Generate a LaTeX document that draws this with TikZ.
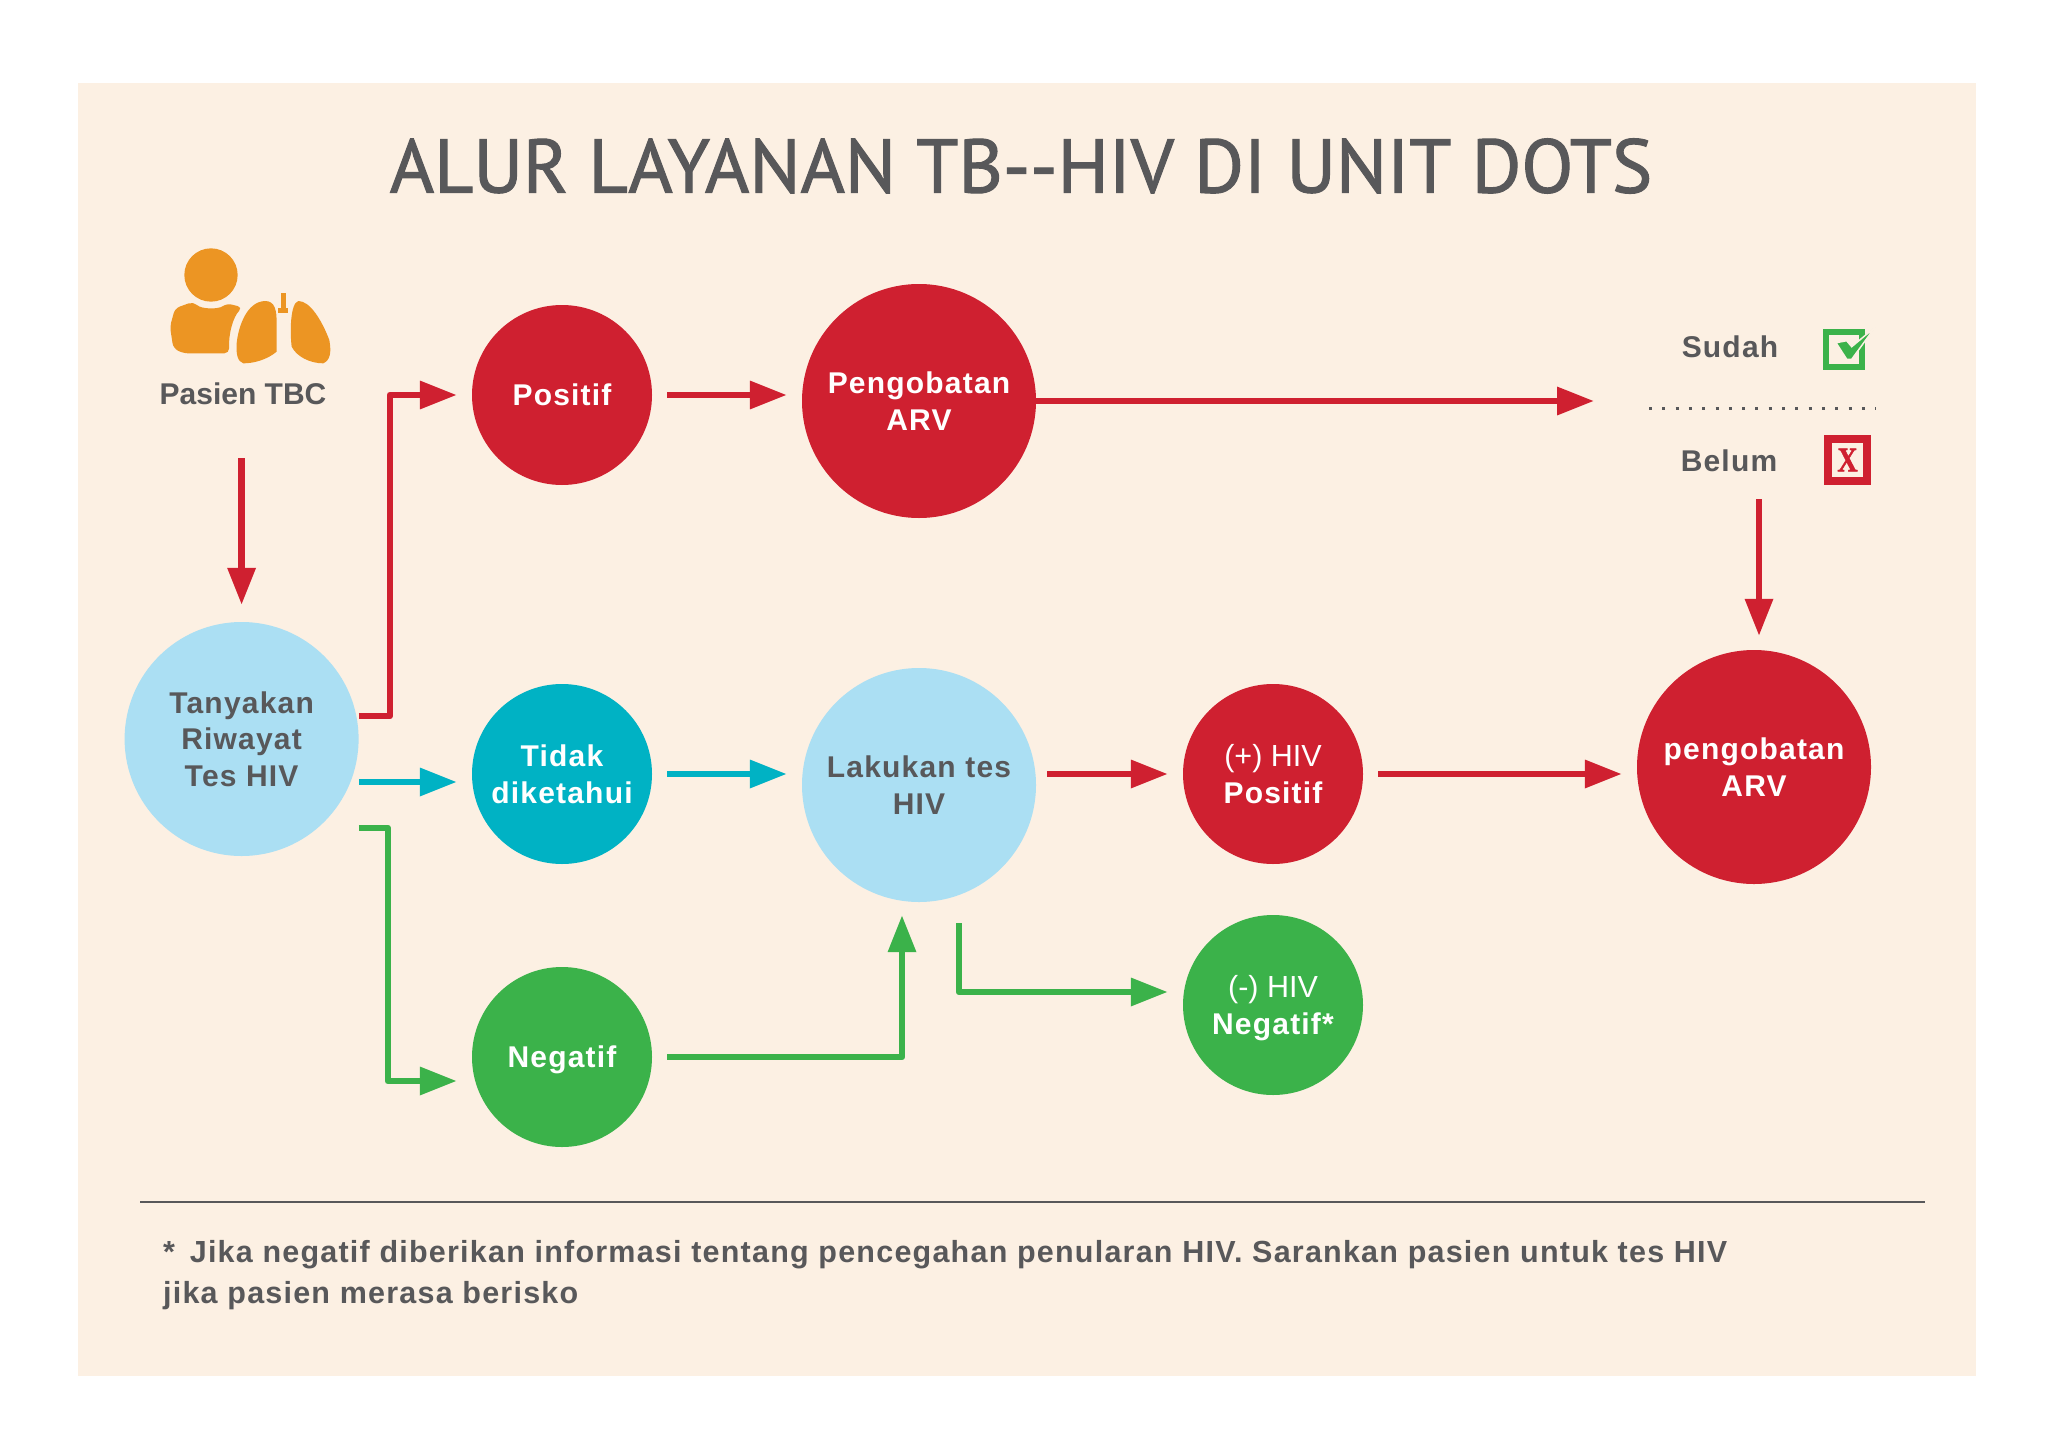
\documentclass[tikz,border=0pt]{standalone}
\usepackage{fontspec}
\setmainfont{Liberation Sans}
\newfontfamily\lblfont[LetterSpace=4]{Liberation Sans}
\newfontfamily\titlefont[FakeBold=1.4]{PT Sans}
\newfontfamily\boxfont[FakeBold=1.5]{Liberation Serif}
\usepackage{tikz}
\usetikzlibrary{arrows.meta}
\definecolor{bgcream}{HTML}{FCF0E3}
\definecolor{txtgray}{HTML}{58585A}
\definecolor{redmain}{HTML}{CF2030}
\definecolor{bluelight}{HTML}{ABDFF3}
\definecolor{cyanmain}{HTML}{00B2C4}
\definecolor{greenmain}{HTML}{3BB24A}
\definecolor{orangemain}{HTML}{EC9523}
\tikzset{
  circ/.style={circle, inner sep=0pt, align=center, text=white, font=\lblfont\fontsize{30}{36.6}\selectfont\bfseries},
  small/.style={circ, minimum size=180pt},
  big/.style={circ, minimum size=234pt},
  lbl/.style={text=txtgray, align=center, inner sep=0pt, font=\lblfont\fontsize{30}{36.6}\selectfont\bfseries},
  conn/.style={line width=6.5pt, line join=round, -{Triangle[length=37pt,width=27pt]}},
  gap/.style={conn, shorten <=15pt, shorten >=15pt},
}
\newcommand{\plainline}[1]{{\rmfamily\mdseries\fontsize{30.5}{36.6}\selectfont #1}}
\begin{document}
\begin{tikzpicture}[x=1pt, y=-1pt]
\useasboundingbox (0,0) rectangle (2048,1445);
\fill[bgcream] (78,83) rectangle (1976,1376);
\node (title) at (1021,166) [text=txtgray, inner sep=0pt, font=\titlefont\fontsize{76}{76}\selectfont] {ALUR LAYANAN TB--HIV DI UNIT DOTS};

\node (tanyakan) at (241.6,739) [big, fill=bluelight, text=txtgray] {Tanyakan\\Riwayat\\Tes HIV};
\node (positif) at (562,395) [small, fill=redmain] {Positif};
\node (tidak) at (562,774) [small, fill=cyanmain, text depth=-8pt] {Tidak\\diketahui};
\node (negatif) at (562,1057) [small, fill=greenmain, text depth=0pt] {Negatif};
\node (pengobatan) at (919,401) [big, fill=redmain] {Pengobatan\\ARV};
\node (lakukan) at (919,785) [big, fill=bluelight, text=txtgray] {Lakukan tes\\HIV};
\node (hivplus) at (1273,774) [small, fill=redmain] {\plainline{(+) HIV}\\Positif};
\node (hivmin) at (1273,1005) [small, fill=greenmain, text depth=0pt] {\plainline{(-) HIV}\\Negatif*};
\node (arv) at (1754,767) [big, fill=redmain] {pengobatan\\ARV};
\node (pasien) at (243,394) [lbl, font=\rmfamily\fontsize{30}{36.6}\selectfont\bfseries] {Pasien TBC};
\node (sudah) at (1730,347) [lbl] {Sudah};
\node (belum) at (1729,461) [lbl] {Belum};
\coordinate (sudahin) at (1594,401);
\coordinate (belumout) at (1759,499);

\draw[conn, redmain, shorten <=53pt, shorten >=17pt] (tanyakan.north |- pasien.south) -- (tanyakan.north);
\draw[conn, redmain, shorten >=15pt] ([yshift=23pt]tanyakan.east) -- ++(31,0) |- (positif.west);
\draw[conn, cyanmain, shorten >=15pt] ([yshift=-43pt]tanyakan.east) -- ([yshift=-8pt]tidak.west);
\draw[conn, greenmain, shorten >=15pt] ([yshift=-89pt]tanyakan.east) -- ++(29,0) |- ([yshift=-24pt]negatif.west);
\draw[gap, redmain] (positif.east) -- (positif.east -| pengobatan.west);
\draw[conn, redmain] (pengobatan.east) -- (sudahin);
\draw[gap, cyanmain] (tidak.east) -- (tidak.east -| lakukan.west);
\draw[gap, greenmain, shorten >=13pt] (negatif.east) -| ([xshift=-17pt]lakukan.south);
\draw[gap, redmain, shorten <=11pt] (lakukan.east |- hivplus.west) -- (hivplus.west);
\draw[gap, greenmain, shorten <=21pt] ([xshift=40pt]lakukan.south) |- ([yshift=13pt]hivmin.west);
\draw[gap, redmain] (hivplus.east) -- (hivplus.east -| arv.west);
\draw[conn, redmain, shorten >=14pt] (belumout) -- (belumout |- arv.north);

\begin{scope}[shift={(130,220)}, scale=1/3]
\fill[orangemain] (243,165) circle (80);
\fill[orangemain, rounded corners=5pt] (120,320) -- (135,265) -- (190,245) .. controls (215,268) and (265,268) .. (290,250) -- (338,262) .. controls (310,290) and (295,340) .. (298,400) -- (160,400) -- (130,385) -- cycle;
\fill[orangemain] (405,243) .. controls (435,243) and (440,270) .. (440,310) -- (440,395) .. controls (410,420) and (370,430) .. (340,430) .. controls (322,425) and (318,400) .. (320,370) .. controls (325,320) and (350,245) .. (405,243) -- cycle;
\fill[orangemain] (505,243) .. controls (540,243) and (575,300) .. (598,360) .. controls (605,400) and (600,420) .. (580,430) .. controls (540,430) and (500,410) .. (485,380) .. controls (480,340) and (480,250) .. (505,243) -- cycle;
\fill[orangemain] (452,220) rectangle (468,265);
\fill[orangemain] (445,265) rectangle (475,280);
\end{scope}

\draw[greenmain, line width=6pt] (1826,332) rectangle (1862,367);
\filldraw[fill=greenmain, draw=bgcream, line width=1.5pt] (1836,342.7) -- (1846.7,340.7) -- (1851.7,346.7) -- (1875,327.3) -- (1851.7,359.3) -- (1846.7,359.3) -- cycle;
\draw[redmain, line width=8pt] (1828,439) rectangle (1867,481);
\node (xmark) at (1847.5,460) [text=redmain, inner sep=0pt, font=\boxfont\fontsize{35}{35}\selectfont\bfseries] {\scalebox{0.8}[1]{X}};
\draw[txtgray, line width=3pt, dash pattern=on 3pt off 10.3pt] (1649,408) -- (1876,408);

\draw[txtgray, line width=1.3pt] (140,1202) -- (1925,1202);
\node (note) at (163,1275) [lbl, anchor=west, align=left, font=\lblfont\fontsize{30.5}{36.6}\selectfont\bfseries] {*\, Jika negatif diberikan informasi tentang pencegahan penularan HIV. Sarankan pasien untuk tes HIV\\[4.5pt]jika pasien merasa berisko};
\end{tikzpicture}
\end{document}
